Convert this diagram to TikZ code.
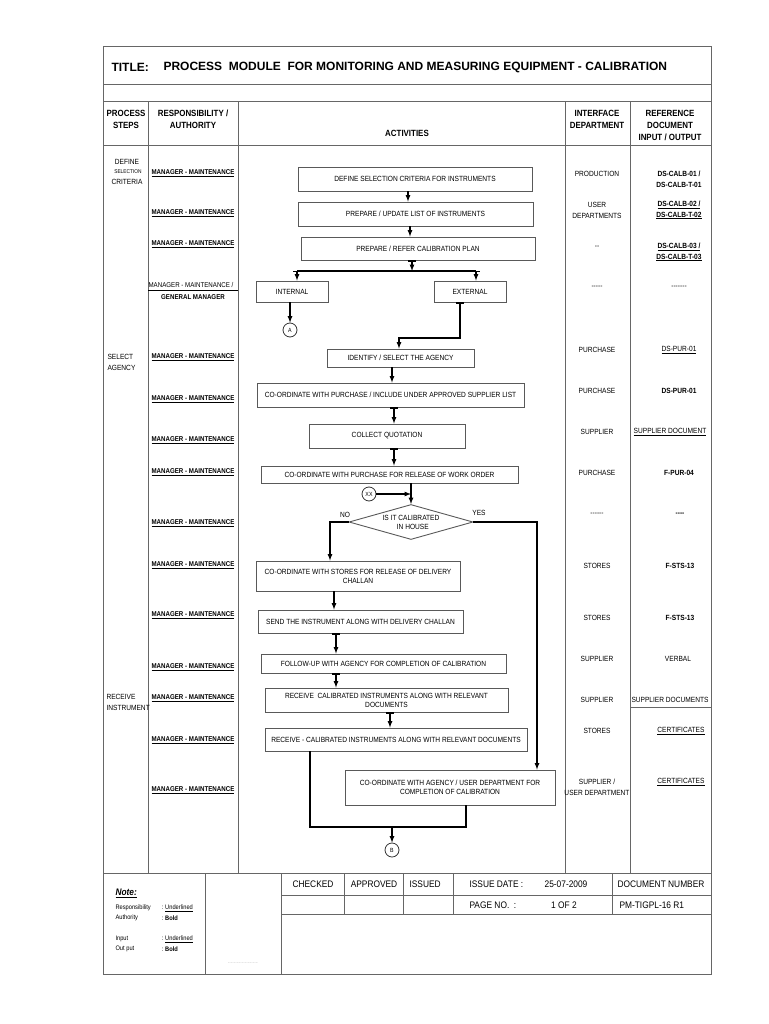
\documentclass[tikz,border=0pt]{standalone}
\usepackage{fontspec}
\setmainfont{Liberation Sans}[FakeStretch=0.88]
\newfontfamily\titlefont{Liberation Sans}
\usepackage{tikz}
\usetikzlibrary{arrows,calc,positioning,shapes.geometric}
\tikzset{
        block/.style = {draw=black!65, line width=0.9pt, rectangle, inner sep=1pt,
            align=center, font=\fontsize{7.5}{9}\selectfont},
        decision/.style = {draw=black!65, line width=0.9pt, diamond, aspect=3.5,
            inner sep=0pt, align=center, font=\fontsize{7.5}{9}\selectfont},
        joint/.style = {draw=black!80, circle, line width=0.8pt, inner sep=0pt,
            minimum size=14pt, font=\fontsize{6}{6}\selectfont},
        arrow/.style = {draw, line width=1.2pt, -latex},
        barrow/.style = {draw, line width=1.2pt, |-latex},
        link/.style = {draw, line width=1.2pt},
        rule/.style = {draw=black!60, line width=1pt},
        head/.style = {font=\bfseries\fontsize{9}{12}\selectfont, align=center},
        resp/.style = {font=\bfseries\fontsize{7}{8}\selectfont},
        cell/.style = {font=\fontsize{7.5}{11}\selectfont, align=center},
        reft/.style = {font=\bfseries\fontsize{7.5}{11}\selectfont, align=center},
        foot/.style = {font=\fontsize{9.5}{11}\selectfont},
        note/.style = {font=\fontsize{6.5}{7}\selectfont, anchor=west},
    }
\begin{document}
\begin{tikzpicture}[x=1pt,y=-1pt]
\useasboundingbox (0,0) rectangle (768,1024);

% table frame
\draw[rule] (103,47) rectangle (711,974);
\draw[rule] (103,85) -- (711,85);
\draw[rule] (103,102) -- (711,102);
\draw[rule] (103,146) -- (711,146);
\draw[rule] (103,873) -- (711,873);
\draw[rule] (148,102) -- (148,873);
\draw[rule] (238,102) -- (238,873);
\draw[rule] (565,102) -- (565,873);
\draw[rule] (630,102) -- (630,873);
\draw[rule] (630,707) -- (711,707);
\draw[line width=0.7pt] (148,290) -- (238,290);

% title and headings
\node[anchor=west, font=\titlefont\bfseries\fontsize{12}{14}\selectfont] (ttl) at (108,67) {TITLE:};
\node[anchor=west, font=\titlefont\bfseries\fontsize{12}{14}\selectfont] (ttltext) at (160,67)
    {PROCESS\ \ MODULE\ \ FOR MONITORING AND MEASURING EQUIPMENT - CALIBRATION};
\node[head] (hsteps) at (126,119) {PROCESS\\STEPS};
\node[head] (hresp) at (193,119) {RESPONSIBILITY /\\AUTHORITY};
\node[head] (hact) at (407,133) {ACTIVITIES};
\node[head] (hiface) at (597,119) {INTERFACE\\DEPARTMENT};
\node[head] (href) at (670,125) {REFERENCE\\DOCUMENT\\INPUT / OUTPUT};

% process steps
\node[cell] (stdef) at (127,162) {DEFINE};
\node[cell, font=\fontsize{5.5}{6}\selectfont] (stsel) at (128,172) {SELECTION};
\node[cell] (stcrit) at (127,182) {CRITERIA};
\node[cell, anchor=west, align=left] (stagency) at (104,362) {SELECT\\AGENCY};
\node[cell, anchor=west, align=left] (strecv) at (103,702) {RECEIVE\\INSTRUMENT};

% responsibility / authority
\node[resp] (r1) at (193,173) {\underline{MANAGER - MAINTENANCE}};
\node[resp] (r2) at (193,213) {\underline{MANAGER - MAINTENANCE}};
\node[resp] (r3) at (193,244) {\underline{MANAGER - MAINTENANCE}};
\node[font=\fontsize{7}{8}\selectfont] (r4a) at (191,285) {MANAGER - MAINTENANCE /};
\node[resp] (r4b) at (193,297) {GENERAL MANAGER};
\node[resp] (r5) at (193,357) {\underline{MANAGER - MAINTENANCE}};
\node[resp] (r6) at (193,399) {\underline{MANAGER - MAINTENANCE}};
\node[resp] (r7) at (193,440) {\underline{MANAGER - MAINTENANCE}};
\node[resp] (r8) at (193,472) {\underline{MANAGER - MAINTENANCE}};
\node[resp] (r9) at (193,523) {\underline{MANAGER - MAINTENANCE}};
\node[resp] (r10) at (193,565) {\underline{MANAGER - MAINTENANCE}};
\node[resp] (r11) at (193,615) {\underline{MANAGER - MAINTENANCE}};
\node[resp] (r12) at (193,667) {\underline{MANAGER - MAINTENANCE}};
\node[resp] (r13) at (193,698) {\underline{MANAGER - MAINTENANCE}};
\node[resp] (r14) at (193,740) {\underline{MANAGER - MAINTENANCE}};
\node[resp] (r15) at (193,790) {\underline{MANAGER - MAINTENANCE}};

% activities
\node[block, minimum width=234pt, minimum height=24pt] (sel) at (415,179)
    {DEFINE SELECTION CRITERIA FOR INSTRUMENTS};
\node[block, minimum width=235pt, minimum height=24pt] (list) at (415.5,214)
    {PREPARE / UPDATE LIST OF INSTRUMENTS};
\node[block, minimum width=234pt, minimum height=23pt] (plan) at (418,248.5)
    {PREPARE / REFER CALIBRATION PLAN};
\node[block, minimum width=72pt, minimum height=21pt] (int) at (292,291.5) {INTERNAL};
\node[block, minimum width=72pt, minimum height=21pt] (ext) at (470,291.5) {EXTERNAL};
\node[joint] (A) at (290,330) {A};
\node[block, minimum width=147pt, minimum height=18pt] (iden) at (400.5,358)
    {IDENTIFY / SELECT THE AGENCY};
\node[block, minimum width=267pt, minimum height=24pt] (supl) at (390.5,395)
    {CO-ORDINATE WITH PURCHASE / INCLUDE UNDER\ APPROVED SUPPLIER LIST};
\node[block, minimum width=156pt, minimum height=24pt] (quot) at (387,436)
    {COLLECT QUOTATION};
\node[block, minimum width=257pt, minimum height=17pt] (wo) at (389.5,474.5)
    {CO-ORDINATE WITH PURCHASE FOR RELEASE OF WORK ORDER};
\node[joint] (XX) at (369,494) {XX};
\node[decision, minimum width=124pt, minimum height=35pt] (dia) at (411,522)
    {IS IT CALIBRATED\\\ \ IN HOUSE};
\node[block, minimum width=204pt, minimum height=30pt] (stor) at (358,576)
    {CO-ORDINATE WITH STORES FOR RELEASE OF DELIVERY\\CHALLAN};
\node[block, minimum width=205pt, minimum height=23pt] (send) at (360.5,621.5)
    {SEND THE INSTRUMENT ALONG WITH DELIVERY CHALLAN};
\node[block, minimum width=245pt, minimum height=19pt] (fol) at (383.5,663.5)
    {FOLLOW-UP WITH AGENCY FOR COMPLETION OF CALIBRATION};
\node[block, minimum width=243pt, minimum height=24pt] (rec1) at (386.5,700)
    {RECEIVE\ \ CALIBRATED INSTRUMENTS ALONG WITH RELEVANT\\DOCUMENTS};
\node[block, minimum width=262pt, minimum height=23pt] (rec2) at (396,739.5)
    {RECEIVE - CALIBRATED INSTRUMENTS ALONG WITH RELEVANT DOCUMENTS};
\node[block, minimum width=210pt, minimum height=35pt] (agy) at (450,787.5)
    {CO-ORDINATE WITH AGENCY / USER DEPARTMENT FOR\\COMPLETION OF CALIBRATION};
\node[joint] (B) at (392,850) {B};
\node[cell] (no) at (345,515) {NO};
\node[cell] (yes) at (479,513) {YES};

% lanes and bends
\coordinate (la) at (408,0);
\coordinate (lb) at (410,0);
\coordinate (sp) at (412,271);
\coordinate (spl) at (297,271);
\coordinate (spr) at (476,271);
\coordinate (ex) at (460,338);
\coordinate (ey) at (399,338);
\coordinate (lc) at (392,0);
\coordinate (ld) at (394,0);
\coordinate (nw) at (330,522);
\coordinate (ye) at (537,522);
\coordinate (le) at (334,0);
\coordinate (lf) at (336,0);
\coordinate (lg) at (390,0);
\coordinate (bl) at (310,827);
\coordinate (br) at (466,827);

% connectors
\draw[arrow] (sel.south -| la) -- (list.north -| la);
\draw[arrow] (list.south -| lb) -- (plan.north -| lb);
\draw[barrow] (plan.south -| sp) -- (sp);
\draw[link] (spl) -- (spr);
\draw[barrow] (spl) -- (int.north -| spl);
\draw[barrow] (spr) -- (ext.north -| spr);
\draw[arrow] (int.south -| A) -- (A);
\draw[barrow] (ext.south -| ex) -- (ex) -- (ey) -- (iden.north -| ey);
\draw[arrow] (iden.south -| lc) -- (supl.north -| lc);
\draw[barrow] (supl.south -| ld) -- (quot.north -| ld);
\draw[barrow] (quot.south -| ld) -- (wo.north -| ld);
\draw[arrow] (wo.south -| dia.north) -- (dia.north);
\draw[arrow] (XX) -- (XX -| dia.north);
\draw[arrow] (dia.west) -- (nw) -- (stor.north -| nw);
\draw[arrow] (dia.east) -- (ye) -- (agy.north -| ye);
\draw[arrow] (stor.south -| le) -- (send.north -| le);
\draw[barrow] (send.south -| lf) -- (fol.north -| lf);
\draw[barrow] (fol.south -| lf) -- (rec1.north -| lf);
\draw[barrow] (rec1.south -| lg) -- (rec2.north -| lg);
\draw[link] (rec2.south -| bl) -- (bl) -- (br) -- (agy.south -| br);
\draw[barrow] (B |- bl) -- (B);

% interface department
\node[cell] (i1) at (597,174) {PRODUCTION};
\node[cell] (i2) at (597,210) {USER\\DEPARTMENTS};
\node[cell] (i3) at (597,247) {-{}-};
\node[cell] (i4) at (597,287) {-{}-{}-{}-{}-};
\node[cell] (i5) at (597,350) {PURCHASE};
\node[cell] (i6) at (597,391) {PURCHASE};
\node[cell] (i7) at (597,432) {SUPPLIER};
\node[cell] (i8) at (597,473) {PURCHASE};
\node[cell] (i9) at (597,514) {-{}-{}-{}-{}-{}-};
\node[cell] (i10) at (597,566) {STORES};
\node[cell] (i11) at (597,618) {STORES};
\node[cell] (i12) at (597,659) {SUPPLIER};
\node[cell] (i13) at (597,700) {SUPPLIER};
\node[cell] (i14) at (597,731) {STORES};
\node[cell] (i15) at (597,787) {SUPPLIER /\\USER DEPARTMENT};

% reference documents
\node[reft] (d1) at (679,179) {DS-CALB-01 /\\DS-CALB-T-01};
\node[reft] (d2) at (679,210) {\underline{DS-CALB-02 /}\\\underline{DS-CALB-T-02}};
\node[reft] (d3) at (679,252) {\underline{DS-CALB-03 /}\\\underline{DS-CALB-T-03}};
\node[cell] (d4) at (679,287) {-{}-{}-{}-{}-{}-{}-};
\node[cell] (d5) at (679,350) {\underline{DS-PUR-01}};
\node[reft] (d6) at (679,391) {DS-PUR-01};
\node[cell] (d7) at (670,432) {\underline{SUPPLIER DOCUMENT}};
\node[reft] (d8) at (679,473) {F-PUR-04};
\node[reft] (d9) at (680,514) {-{}-{}-{}-};
\node[reft] (d10) at (680,566) {F-STS-13};
\node[reft] (d11) at (680,618) {F-STS-13};
\node[cell] (d12) at (678,659) {VERBAL};
\node[cell] (d13) at (670,700) {SUPPLIER DOCUMENTS};
\node[cell] (d14) at (681,731) {\underline{CERTIFICATES}};
\node[cell] (d15) at (681,782) {\underline{CERTIFICATES}};

% footer
\draw[rule] (205,873) -- (205,974);
\draw[rule] (281,873) -- (281,974);
\draw[rule] (281,895) -- (711,895);
\draw[rule] (281,914) -- (711,914);
\draw[rule] (344,873) -- (344,914);
\draw[rule] (403,873) -- (403,914);
\draw[rule] (453,873) -- (453,914);
\draw[rule] (612,873) -- (612,914);
\node[anchor=west, font=\bfseries\itshape\fontsize{9.5}{11}\selectfont] (nt) at (112,893) {\underline{Note:}};
\node[note] (n1) at (112,908) {Responsibility};
\node[note] (n1v) at (158,908) {: \underline{Underlined}};
\node[note] (n2) at (112,918) {Authority};
\node[note] (n2v) at (158,918) {: \textbf{Bold}};
\node[note] (n3) at (112,939) {Input};
\node[note] (n3v) at (158,939) {: \underline{Underlined}};
\node[note] (n4) at (112,949) {Out put};
\node[note] (n4v) at (158,949) {: \textbf{Bold}};
\node[font=\fontsize{3}{3}\selectfont, text=black!60] (sig) at (243,963) {.........................................};
\node[foot] (fchk) at (313,884) {CHECKED};
\node[foot] (fapp) at (374,884) {APPROVED};
\node[foot, anchor=west] (fiss) at (406,884) {ISSUED};
\node[foot, anchor=west] (fdate) at (466,884) {ISSUE DATE :};
\node[foot] (fdatev) at (566,884) {25-07-2009};
\node[foot] (fdoc) at (661,884) {DOCUMENT NUMBER};
\node[foot, anchor=west] (fpage) at (466,905) {PAGE NO.\ \ :};
\node[foot] (fpagev) at (564,905) {1 OF 2};
\node[foot, anchor=west] (fnum) at (616,905) {PM-TIGPL-16 R1};
\end{tikzpicture}
\end{document}
